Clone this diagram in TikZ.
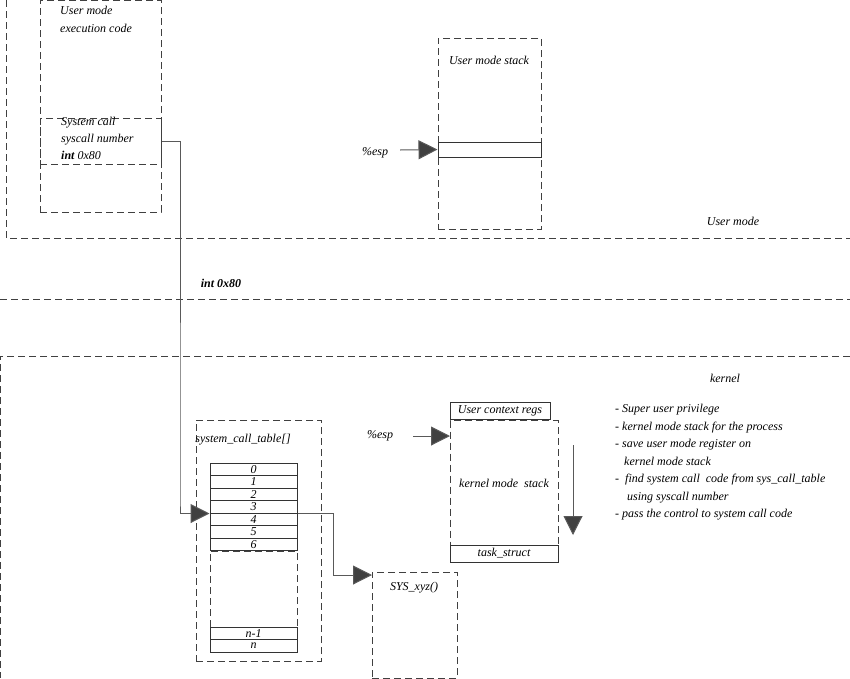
\documentclass[tikz,border=0pt]{standalone}
\usepackage{fontspec}
\setmainfont{Liberation Serif}
\usetikzlibrary{arrows.meta}
\begin{document}
\begin{tikzpicture}[x=1pt,y=-1pt,
  dsh/.style={draw=black!75,dash pattern=on 7pt off 4pt,line width=1pt},
  sol/.style={draw=black!80,line width=1pt},
  lbl/.style={font=\itshape\fontsize{12}{14}\selectfont,inner sep=0pt},
  conn/.style={draw=black!65,line width=1pt,-{Triangle[length=19pt,width=19pt,fill=black!75]}}]
\useasboundingbox (0,0) rectangle (850,678);
% regions
\draw[dsh] (6,0) -- (6,238) -- (850,238);
\draw[dsh] (0,299) -- (850,299);
\draw[dsh] (850,356) -- (0,356) -- (0,678);
\node[lbl,font=\bfseries\itshape\fontsize{12}{14}\selectfont] (int) at (221,283) {int 0x80};
\node[lbl] (um) at (733,221) {User mode};
\node[lbl] (kern) at (725,378) {kernel};
% user code
\node[dsh,minimum width=121pt,minimum height=212pt,inner sep=0pt] (code) at (100.5,106) {};
\node[dsh,minimum width=121pt,minimum height=46pt,inner sep=0pt] (sc) at (100.5,141) {};
\node[lbl,align=left,anchor=north west] (t1) at (60,6) {User mode\\[4pt]execution code};
\node[lbl,align=left,anchor=north west] (t2) at (61,117) {System call\\[3pt]syscall number\\[3pt]\textbf{int} 0x80};
% user stack
\node[dsh,minimum width=103pt,minimum height=191pt,inner sep=0pt] (ustack) at (489.5,133.5) {};
\node[lbl] (ust) at (489,60) {User mode stack};
\node[sol,minimum width=103pt,minimum height=15pt,inner sep=0pt] (slot) at (489.5,149.5) {};
\node[lbl] (esp1) at (375,153) {\%esp};
\coordinate (e1) at (400,150);
\draw[conn] (e1) -- (slot.west);
% kernel stack
\node[dsh,minimum width=108pt,minimum height=125pt,inner sep=0pt,lbl] (kstack) at (504,483) {kernel mode\ \ stack};
\node[sol,minimum width=100pt,minimum height=17pt,inner sep=0pt,lbl] (ucr) at (500,411) {User context regs};
\node[sol,minimum width=108pt,minimum height=17pt,inner sep=0pt,lbl] (ts) at (504,553.5) {task\_struct};
\node[lbl] (esp2) at (380,436) {\%esp};
\coordinate (e2) at (413,436);
\coordinate (e2t) at (450,436);
\draw[conn] (e2) -- (e2t);
\coordinate (d1) at (573,445);
\coordinate (d2) at (573,535);
\draw[conn] (d1) -- (d2);
\node[lbl,align=left,anchor=north west] (notes) at (615,404) {- Super user privilege\\[3.5pt]- kernel mode stack for the process\\[3.5pt]- save user mode register on\\[3.5pt]\ \ \ kernel mode stack\\[3.5pt]-\ \ find system call\ \ code from sys\_call\_table\\[3.5pt]\ \ \ \ using syscall number\\[3.5pt]- pass the control to system call code};
% table
\node[dsh,minimum width=125pt,minimum height=241pt,inner sep=0pt] (tbl) at (258.5,540.5) {};
\node[lbl] (tt) at (243,440) {system\_call\_table[]};
\foreach \i/\t in {0/0,1/1,2/2,3/3,4/4,5/5,6/6}{
  \node[sol,minimum width=87pt,minimum height=12.5pt,inner sep=0pt,lbl] (r\i) at (253.5,469.25+12.5*\i) {\t};
}
\node[dsh,minimum width=87pt,minimum height=76pt,inner sep=0pt] (gap) at (253.5,589) {};
\node[sol,minimum width=87pt,minimum height=12.5pt,inner sep=0pt,lbl] (rn1) at (253.5,633.25) {n-1};
\node[sol,minimum width=87pt,minimum height=12.5pt,inner sep=0pt,lbl] (rn) at (253.5,645.75) {n};
% SYS_xyz
\node[dsh,minimum width=85pt,minimum height=106pt,inner sep=0pt] (sys) at (414.5,625) {};
\node[lbl] (syst) at (414,588) {SYS\_xyz()};
% connectors
\coordinate (j1) at (180,500);
\coordinate (j2) at (333,575);
\coordinate (sysin) at (372,575);
\draw[conn] (sc.east) -| (j1) |- (r3.south west);
\draw[conn] (r3.south east) -| (j2) -- (sysin);
\end{tikzpicture}
\end{document}
